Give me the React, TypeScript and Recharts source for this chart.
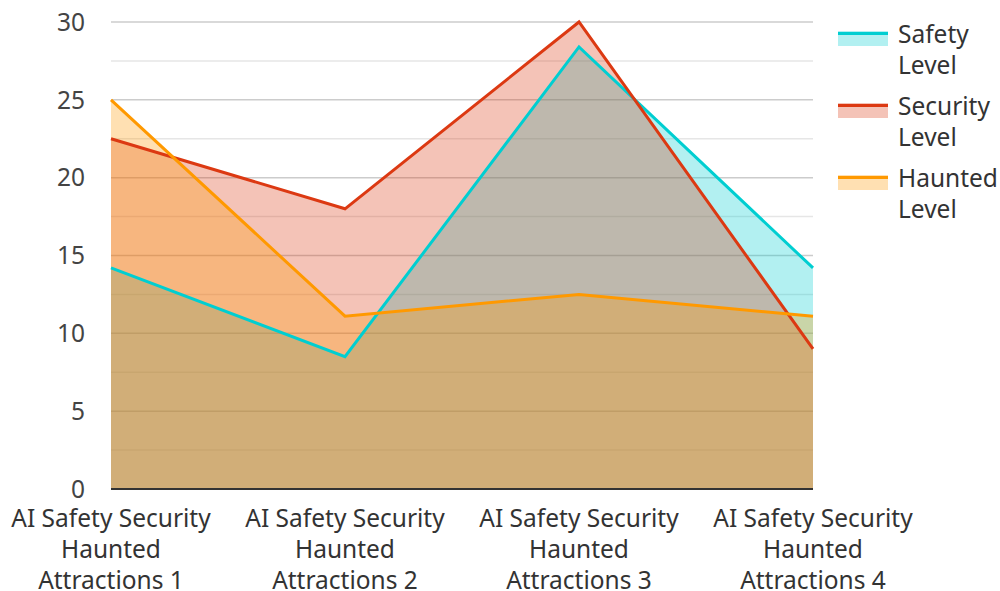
import React from "react";
import { ComposedChart, Area, Line, XAxis, YAxis, CartesianGrid } from "recharts";

const categories = [
  "AI Safety Security\nHaunted\nAttractions 1",
  "AI Safety Security\nHaunted\nAttractions 2",
  "AI Safety Security\nHaunted\nAttractions 3",
  "AI Safety Security\nHaunted\nAttractions 4",
];
const safetyLevel = [14.2, 8.5, 28.4, 14.2];
const securityLevel = [22.5, 18, 30, 9];
const hauntedLevel = [25, 11.1, 12.5, 11.1];
const yTicks = [0, 5, 10, 15, 20, 25, 30];
const minorTicks = [2.5, 7.5, 12.5, 17.5, 22.5, 27.5];

const seriesInfo = [
  { key: "safety", name: "Safety\nLevel", color: "#00CED1" },
  { key: "security", name: "Security\nLevel", color: "#DC3912" },
  { key: "haunted", name: "Haunted\nLevel", color: "#FF9900" },
];

const data = categories.map((c, i) => ({
  name: c,
  safety: safetyLevel[i],
  security: securityLevel[i],
  haunted: hauntedLevel[i],
}));

const FONT = "'Noto Sans', sans-serif";
const FS = 24.5;

const XTick = (props: any) => {
  const { x, y, payload } = props;
  const lines = String(payload.value).split("\n");
  return (
    <text x={x} y={y} textAnchor="middle" fill="#333" fontSize={FS} fontFamily={FONT}>
      {lines.map((l, i) => (
        <tspan key={i} x={x} dy={i === 0 ? 30 : 31}>
          {l}
        </tspan>
      ))}
    </text>
  );
};

const LegendBox = () => (
  <div
    style={{
      position: "absolute",
      left: 838,
      top: 18,
      fontFamily: FONT,
      fontSize: FS,
      color: "#333",
    }}
  >
    {seriesInfo.map((s) => (
      <div key={s.key} style={{ display: "flex", alignItems: "flex-start", marginBottom: 10 }}>
        <svg width={50} height={16} style={{ marginTop: 13, marginRight: 10, flexShrink: 0 }}>
          <rect x={0} y={0} width={50} height={15} fill={s.color} fillOpacity={0.3} />
          <rect x={0} y={1} width={50} height={3} fill={s.color} />
        </svg>
        <div style={{ lineHeight: "31px" }}>
          {s.name.split("\n").map((l, i) => (
            <div key={i}>{l}</div>
          ))}
        </div>
      </div>
    ))}
  </div>
);

export default function App() {
  return (
    <div style={{ position: "fixed", left: 0, top: 0, width: 1000, height: 591, background: "#fff" }}>
      <ComposedChart
        width={1000}
        height={591}
        data={data}
        margin={{ top: 22, right: 187, bottom: 0, left: 0 }}
      >
        <CartesianGrid vertical={false} stroke="#e6e6e6" strokeWidth={1.5} horizontalValues={minorTicks} />
        <CartesianGrid vertical={false} stroke="#cccccc" strokeWidth={1.5} horizontalValues={yTicks} />
        <XAxis
          dataKey="name"
          tick={<XTick />}
          tickLine={false}
          axisLine={{ stroke: "#333", strokeWidth: 2 }}
          interval={0}
          height={102}
        />
        <YAxis
          domain={[0, 30]}
          ticks={yTicks}
          width={111}
          axisLine={false}
          tickLine={false}
          tickSize={0}
          tickMargin={26}
          tick={{ fill: "#444", fontSize: FS, fontFamily: FONT }}
        />
        {seriesInfo.map((s) => (
          <Area
            key={"a" + s.key}
            type="linear"
            dataKey={s.key}
            stroke="none"
            fill={s.color}
            fillOpacity={0.3}
            isAnimationActive={false}
            dot={false}
            activeDot={false}
          />
        ))}
        {seriesInfo.map((s) => (
          <Line
            key={"l" + s.key}
            type="linear"
            dataKey={s.key}
            stroke={s.color}
            strokeWidth={3}
            isAnimationActive={false}
            dot={false}
            activeDot={false}
          />
        ))}
      </ComposedChart>
      <LegendBox />
    </div>
  );
}
